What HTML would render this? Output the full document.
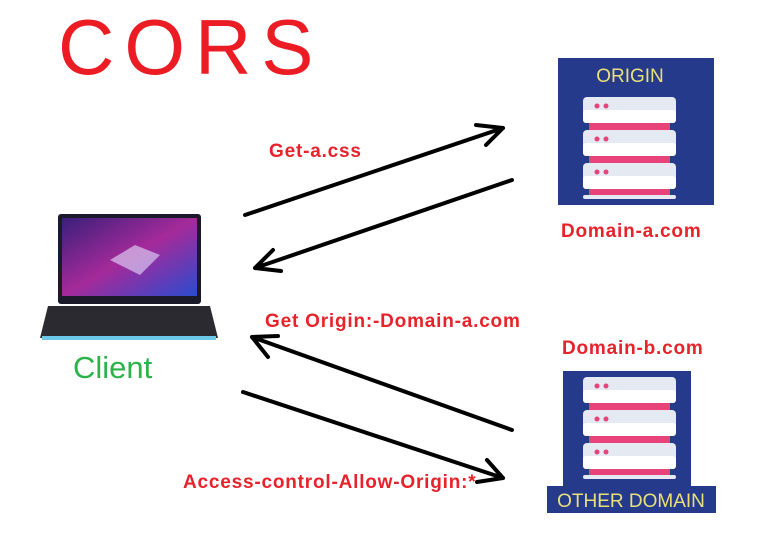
<!DOCTYPE html>
<html><head><style>
body{margin:0;width:766px;height:543px;background:#fff;position:relative;overflow:hidden;font-family:"Liberation Sans",sans-serif}
.t{position:absolute;color:#e8222a;font-weight:bold;font-size:19px;letter-spacing:0.8px;white-space:nowrap}
</style></head><body>
<div style="position:absolute;left:58px;top:2px;font-size:78px;color:#ec1c24;letter-spacing:10px;line-height:90px">CORS</div>
<svg width="766" height="543" style="position:absolute;left:0;top:0">
<defs>
<g id="srv">
<rect x="0" y="0" width="93" height="26" rx="4" fill="#e4e9f2"/>
<rect x="0" y="13" width="93" height="13" rx="3" fill="#fff"/>
<rect x="6" y="26" width="81" height="7" fill="#e8427a"/>
<circle cx="14" cy="9" r="2.5" fill="#e8427a"/><circle cx="23" cy="9" r="2.5" fill="#e8427a"/>
</g>
</defs>
<rect x="558" y="58" width="156" height="147" fill="#263a8c"/>
<text x="630" y="82" font-family="Liberation Sans" font-size="19" fill="#e8e07a" text-anchor="middle">ORIGIN</text>
<use href="#srv" x="583" y="97"/><use href="#srv" x="583" y="130"/><use href="#srv" x="583" y="163"/>
<rect x="583" y="195" width="93" height="4" rx="2" fill="#e4e9f2"/>
<rect x="563" y="371" width="128" height="116" fill="#263a8c"/>
<rect x="547" y="486" width="169" height="27" fill="#263a8c"/>
<use href="#srv" x="583" y="377"/><use href="#srv" x="583" y="410"/><use href="#srv" x="583" y="443"/>
<rect x="583" y="475" width="93" height="4" rx="2" fill="#e4e9f2"/>
<text x="631" y="507" font-family="Liberation Sans" font-size="19" fill="#e8e07a" text-anchor="middle">OTHER DOMAIN</text>
<rect x="58" y="214" width="143" height="90" rx="3" fill="#1a1a2a"/>
<defs><linearGradient id="sc" x1="0" y1="0" x2="1" y2="1"><stop offset="0" stop-color="#3a1f7a"/><stop offset="0.5" stop-color="#a52a9a"/><stop offset="1" stop-color="#2a4bd0"/></linearGradient></defs>
<rect x="62" y="218" width="135" height="78" fill="url(#sc)"/>
<path d="M110 260 L135 245 L160 255 L140 275 Z" fill="#d8c8f0" opacity="0.7"/>
<path d="M48 306 L210 306 L218 338 L40 338 Z" fill="#2a2a30"/>
<rect x="42" y="336" width="174" height="4" fill="#6ac8e8"/>
<g stroke="#000" stroke-width="4" fill="none" stroke-linecap="round">
<path d="M245 215 L503 128 M503 128 L476 125 M503 128 L486 145"/>
<path d="M512 180 L255 268 M255 268 L273 250 M255 268 L281 271"/>
<path d="M512 430 L252 337 M252 337 L278 336 M252 337 L268 357"/>
<path d="M243 392 L503 478 M503 478 L487 460 M503 478 L477 482"/>
</g>
</svg>
<div class="t" style="left:269px;top:141px">Get-a.css</div>
<div class="t" style="left:561px;top:221px">Domain-a.com</div>
<div class="t" style="left:265px;top:311px">Get Origin:-Domain-a.com</div>
<div class="t" style="left:562px;top:338px">Domain-b.com</div>
<div class="t" style="left:183px;top:472px">Access-control-Allow-Origin:*</div>
<div style="position:absolute;left:73px;top:350px;font-size:31px;color:#2bb34a">Client</div>
</body></html>
